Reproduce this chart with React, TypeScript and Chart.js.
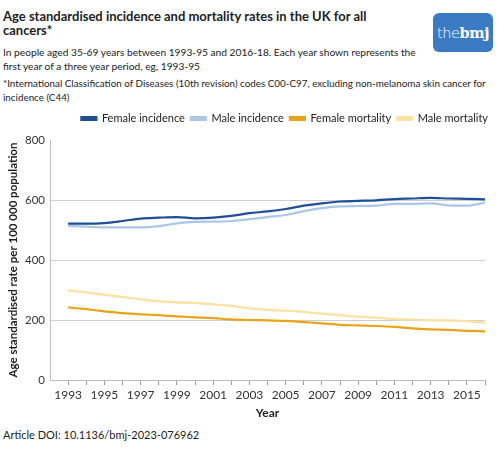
import React, { useEffect, useRef } from "react";
import { Chart, registerables } from "chart.js";

Chart.register(...registerables);

const years = [1993, 1994, 1995, 1996, 1997, 1998, 1999, 2000, 2001, 2002, 2003, 2004, 2005, 2006, 2007, 2008, 2009, 2010, 2011, 2012, 2013, 2014, 2015, 2016];
const femaleIncidence = [521, 521, 523, 530, 538, 541, 543, 539, 541, 547, 556, 562, 570, 581, 589, 595, 597, 599, 603, 605, 607, 605, 604, 602];
const maleIncidence = [514, 511, 509, 509, 509, 513, 522, 527, 528, 530, 536, 543, 550, 563, 573, 579, 580, 581, 587, 587, 589, 582, 581, 591];
const femaleMortality = [242, 236, 229, 223, 219, 216, 212, 209, 206, 202, 200, 199, 197, 193, 189, 184, 182, 180, 177, 172, 169, 167, 164, 162];
const maleMortality = [299, 292, 284, 277, 269, 263, 259, 257, 252, 247, 239, 234, 231, 227, 221, 216, 211, 208, 203, 201, 199, 199, 196, 191];
const yTicks = [0, 200, 400, 600, 800];

const FONT = "Lato, 'Noto Sans', sans-serif";

function toPoints(vals: number[]) {
  return years.map((y, i) => ({ x: y, y: vals[i] }));
}

function ChartBox() {
  const ref = useRef<HTMLCanvasElement | null>(null);
  useEffect(() => {
    if (!ref.current) return;
    const mk = (label: string, vals: number[], color: string) => ({
      label,
      data: toPoints(vals),
      borderColor: color,
      backgroundColor: color,
      borderWidth: 2.2,
      pointRadius: 0,
      tension: 0.4,
      cubicInterpolationMode: "monotone" as const,
    });
    const legendMargin = {
      id: "legendMargin",
      beforeInit(chart: any) {
        const lg = chart.legend;
        if (!lg) return;
        const orig = lg.fit;
        lg.fit = function () {
          orig.bind(lg)();
          this.height += 8;
        };
      },
      afterLayout(chart: any) {
        const lg = chart.legend;
        if (!lg) return;
        lg.left += 9;
        lg.right += 9;
        lg.top += 2;
        lg.bottom += 2;
      },
    };
    const chart = new Chart(ref.current, {
      type: "line",
      data: {
        datasets: [
          mk("Female incidence", femaleIncidence, "#1f4e96"),
          mk("Male incidence", maleIncidence, "#a9c7e8"),
          mk("Female mortality", femaleMortality, "#e8a418"),
          mk("Male mortality", maleMortality, "#fbe2a0"),
        ],
      },
      plugins: [legendMargin],
      options: {
        animation: false,
        responsive: false,
        maintainAspectRatio: false,
        layout: { padding: { left: 0, right: 15, top: 0, bottom: 5 } },
        plugins: {
          tooltip: { enabled: false },
          legend: {
            position: "top",
            align: "end",
            labels: {
              boxWidth: 15,
              boxHeight: 3,
              padding: 6,
              color: "#222",
              font: { family: FONT, size: 11 },
            },
          },
        },
        scales: {
          x: {
            type: "linear",
            min: 1992,
            max: 2016,
            afterBuildTicks(scale: any) {
              scale.ticks = [1992, ...years].map((v) => ({ value: v }));
            },
            ticks: {
              autoSkip: false,
              maxRotation: 0,
              color: "#333",
              padding: 3,
              font: { family: FONT, size: 12 },
              callback: (v: any) => (Number(v) >= 1993 && Number(v) % 2 === 1 ? String(v) : ""),
            },
            grid: {
              drawOnChartArea: false,
              drawTicks: true,
              tickLength: 5,
              color: (ctx: any) => (ctx.tick && ctx.tick.value === 1992 ? "rgba(0,0,0,0)" : "#999"),
            },
            border: { display: true, color: "#bdbdbd", width: 1 },
            title: {
              display: true,
              text: "Year",
              color: "#222",
              font: { family: FONT, size: 12, weight: "bold" },
              padding: { top: 4, bottom: 0 },
            },
            afterFit(scale: any) {
              scale.height = 40;
            },
          },
          y: {
            min: 0,
            max: 800,
            afterBuildTicks(scale: any) {
              scale.ticks = yTicks.map((v) => ({ value: v }));
            },
            ticks: {
              color: "#333",
              padding: 5,
              font: { family: FONT, size: 11.5 },
            },
            grid: {
              drawTicks: false,
              color: (ctx: any) => (ctx.tick && (ctx.tick.value === 800 || ctx.tick.value === 0) ? "rgba(0,0,0,0)" : "#cfcfcf"),
            },
            border: { display: true, color: "#bdbdbd", width: 1 },
            title: {
              display: true,
              text: "Age standardised rate per 100 000 population",
              color: "#222",
              font: { family: FONT, size: 11.5, weight: "bold" },
              padding: { top: 6, bottom: 0 },
            },
            afterFit(scale: any) {
              scale.width = 50;
            },
          },
        },
      },
    });
    return () => chart.destroy();
  }, []);
  return <canvas ref={ref} width={500} height={320} style={{ position: "absolute", left: 0, top: 105, width: 500, height: 320 }} />;
}

export default function App() {
  const textStyle: React.CSSProperties = { position: "absolute", left: 3, fontFamily: FONT, color: "#222", whiteSpace: "nowrap" };
  return (
    <div style={{ position: "absolute", left: 0, top: 0, width: 500, height: 450, background: "#fff", overflow: "hidden" }}>
      <div style={{ ...textStyle, top: 9, fontSize: 13, fontWeight: 700, lineHeight: "14px" }}>
        Age standardised incidence and mortality rates in the UK for all
        <br />
        cancers*
      </div>
      <div style={{ ...textStyle, top: 45, fontSize: 10.2, lineHeight: "14px" }}>
        In people aged 35-69 years between 1993-95 and 2016-18. Each year shown represents the
        <br />
        first year of a three year period, eg, 1993-95
      </div>
      <div style={{ ...textStyle, top: 76, fontSize: 9.85, lineHeight: "14px" }}>
        *International Classification of Diseases (10th revision) codes C00-C97, excluding non-melanoma skin cancer for
        <br />
        incidence (C44)
      </div>
      <div
        style={{
          position: "absolute",
          left: 433,
          top: 13,
          width: 60,
          height: 39,
          borderRadius: 6,
          background: "#3b7bc4",
          color: "#fff",
          display: "flex",
          alignItems: "center",
          justifyContent: "center",
          fontSize: 14.5,
          letterSpacing: "-0.4px",
        }}
      >
        <span style={{ fontFamily: "'DejaVu Sans', sans-serif", fontWeight: 300 }}>the</span>
        <span style={{ fontFamily: "'DejaVu Serif', serif", fontWeight: 700 }}>bmj</span>
      </div>
      <ChartBox />
      <div style={{ ...textStyle, top: 428, fontSize: 11, lineHeight: "14px" }}>Article DOI: 10.1136/bmj-2023-076962</div>
    </div>
  );
}
